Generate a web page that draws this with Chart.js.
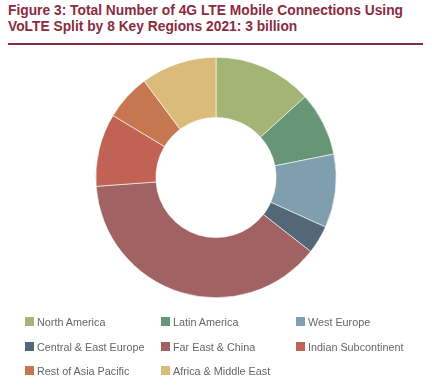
<!DOCTYPE html>
<html><head><meta charset="utf-8">
<script src="https://cdn.jsdelivr.net/npm/chart.js@4"></script>
<style>
html,body{margin:0;padding:0;background:#fff;width:432px;height:388px;overflow:hidden;position:relative;font-family:"Liberation Sans",Arial,sans-serif}
#title{position:absolute;left:8px;top:3px;width:415px;color:#8c2b40;font-weight:bold;font-size:13.8px;line-height:16px;padding-bottom:8px;border-bottom:2px solid #8c2b40;white-space:nowrap}
#wrap{position:absolute;left:0;top:57px;width:432px;height:241px}
#legend{position:absolute;left:0;top:0;width:432px;height:388px}
.item{position:absolute;font-size:10.8px;color:#666;white-space:nowrap;line-height:12px}
.box{position:absolute;width:9px;height:9px;left:0;top:1px}
.lbl{position:absolute;left:12px;top:0}
</style></head><body>
<div id="title">Figure 3: Total Number of 4G LTE Mobile Connections Using<br>VoLTE Split by 8 Key Regions 2021: 3 billion</div>
<div id="wrap"><canvas id="c" width="432" height="241"></canvas></div>
<div id="legend"></div>
<script>
const regions = ["North America","Latin America","West Europe","Central & East Europe","Far East & China","Indian Subcontinent","Rest of Asia Pacific","Africa & Middle East"];
const sharePct = [13.3, 8.6, 9.9, 3.8, 38.3, 9.8, 6.2, 10.2];
const colors = ["#a3b474","#669676","#809fae","#526879","#a06262","#c06355","#c7774f","#dbbb7a"];

new Chart(document.getElementById('c'), {
  type: 'doughnut',
  data: { labels: regions, datasets: [{ data: sharePct, backgroundColor: colors, borderColor: '#ffffff', borderWidth: 0.6 }] },
  options: {
    responsive: false, animation: false, cutout: '50%',
    layout: { padding: 0 },
    plugins: { legend: { display: false }, tooltip: { enabled: false } }
  }
});

const colX = [25, 161, 296];
const rowY = [316, 341, 365];
const leg = document.getElementById('legend');
regions.forEach((r, i) => {
  const d = document.createElement('div');
  d.className = 'item';
  d.style.left = colX[i % 3] + 'px';
  d.style.top = rowY[Math.floor(i / 3)] + 'px';
  d.innerHTML = '<span class="box" style="background:' + colors[i] + '"></span><span class="lbl"></span>';
  d.querySelector('.lbl').textContent = r;
  leg.appendChild(d);
});
</script>
</body></html>
